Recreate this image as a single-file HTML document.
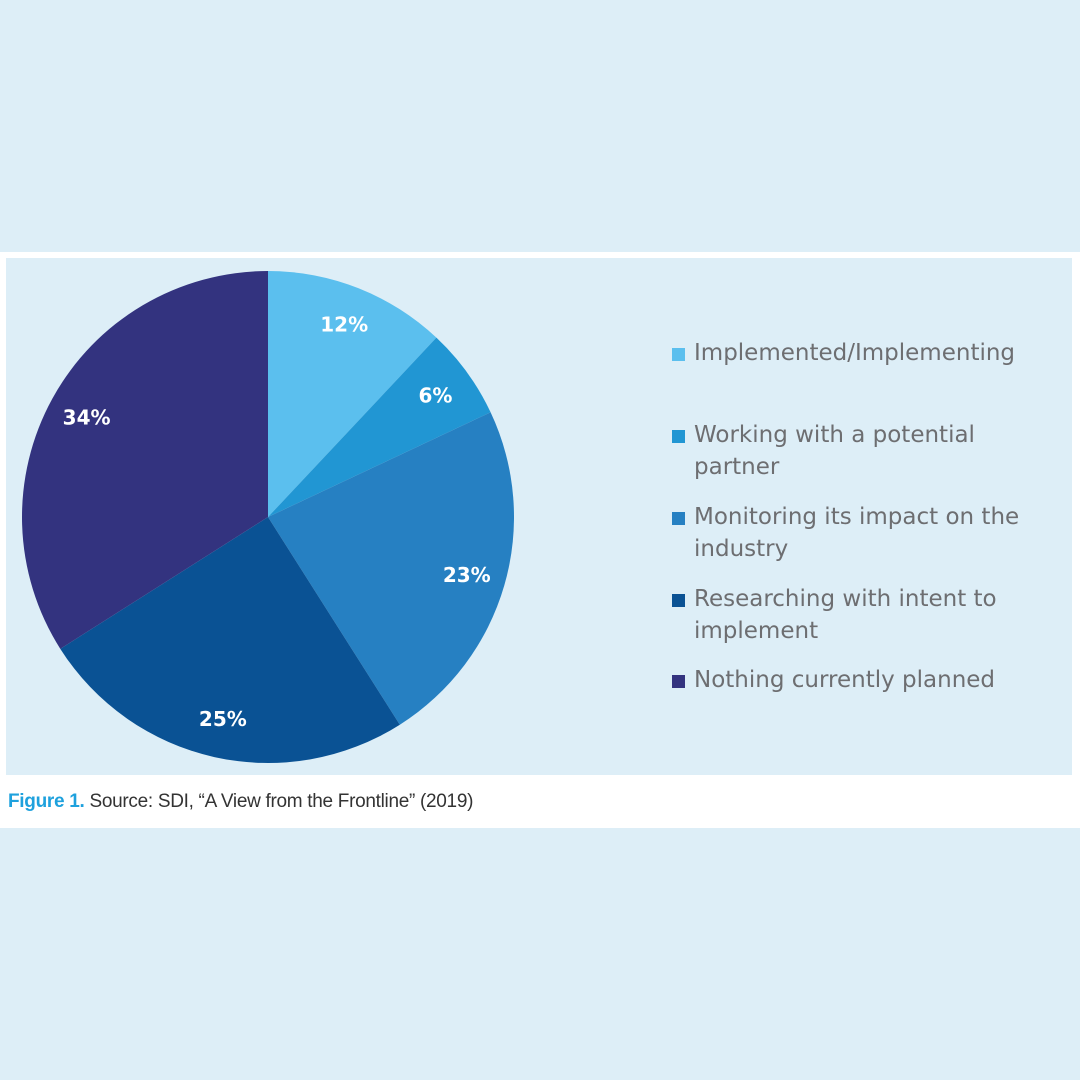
<!DOCTYPE html>
<html><head><meta charset="utf-8"><style>
body{margin:0;width:1080px;height:1080px;background:#ddeef7;position:relative;overflow:hidden;font-family:"Liberation Sans",sans-serif}
#band{position:absolute;left:0;top:252px;width:1080px;height:576px;background:#fff}
#panel{position:absolute;left:6px;top:258px;width:1066px;height:517px;background:#ddeef7}
#caption{position:absolute;left:8px;top:791px;font-size:19px;color:#333;letter-spacing:-0.3px}
#caption b{color:#1ea1dd}
.leg{position:absolute;left:672px;font-size:25px;color:#6d6e71;line-height:32px;font-family:"DejaVu Sans","Liberation Sans",sans-serif;font-size:23px}
.leg i{position:absolute;left:0;top:11px;width:13px;height:13px}
.leg span{display:block;margin-left:22px}
</style></head><body>
<div id="band"></div>
<div id="panel"></div>
<svg id="pie" width="1080" height="1080" style="position:absolute;left:0;top:0"></svg>
<div class="leg" style="top:337px"><i style="background:#5bbfee"></i><span>Implemented/Implementing</span></div>
<div class="leg" style="top:419px"><i style="background:#2196d3"></i><span>Working with a potential<br>partner</span></div>
<div class="leg" style="top:501px"><i style="background:#2680c2"></i><span>Monitoring its impact on the<br>industry</span></div>
<div class="leg" style="top:583px"><i style="background:#0a5294"></i><span>Researching with intent to<br>implement</span></div>
<div class="leg" style="top:664px"><i style="background:#33337f"></i><span>Nothing currently planned</span></div>
<div id="caption"><b>Figure 1.</b> Source: SDI, “A View from the Frontline” (2019)</div>
<script>
const categories=["Implemented/Implementing","Working with a potential partner","Monitoring its impact on the industry","Researching with intent to implement","Nothing currently planned"];
const values=[12,6,23,25,34];
const labels=["12%","6%","23%","25%","34%"];
const colors=["#5bbfee","#2196d3","#2680c2","#0a5294","#33337f"];
const cx=268,cy=517,R=246,LR=207;
const svg=document.getElementById('pie');
const NS="http://www.w3.org/2000/svg";
const total=values.reduce((a,b)=>a+b,0);
function pt(a,r){return [cx+r*Math.sin(a),cy-r*Math.cos(a)];}
let acc=0;
values.forEach((v,i)=>{
  const a0=acc/total*2*Math.PI; acc+=v; const a1=acc/total*2*Math.PI;
  const p0=pt(a0,R),p1=pt(a1,R);
  const path=document.createElementNS(NS,'path');
  path.setAttribute('d',`M${cx},${cy}L${p0[0]},${p0[1]}A${R},${R} 0 ${a1-a0>Math.PI?1:0} 1 ${p1[0]},${p1[1]}Z`);
  path.setAttribute('fill',colors[i]);
  
  
  svg.appendChild(path);
  const lp=pt((a0+a1)/2,LR);
  const t=document.createElementNS(NS,'text');
  t.setAttribute('x',lp[0]);t.setAttribute('y',lp[1]+7);
  t.setAttribute('text-anchor','middle');t.setAttribute('fill','#fff');
  t.setAttribute('font-size','20');t.setAttribute('font-weight','bold');
  t.setAttribute('font-family','"DejaVu Sans","Liberation Sans",sans-serif');
  t.textContent=labels[i];
  
  
  svg.appendChild(t);
});
</script>
</body></html>
